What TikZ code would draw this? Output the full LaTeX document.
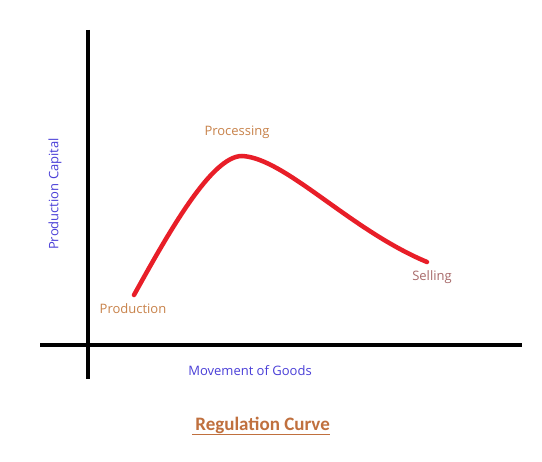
\documentclass[tikz,border=0pt]{standalone}
\usepackage{fontspec}
\setmainfont{Open Sans}
\newfontfamily\calfont{Carlito}
\definecolor{lblorange}{HTML}{C8824A}
\definecolor{lblmauve}{HTML}{A86A6A}
\definecolor{axblue}{HTML}{4A3FD8}
\definecolor{titlebrown}{HTML}{C0703E}
\definecolor{curvered}{HTML}{E81E28}
\begin{document}
\begin{tikzpicture}[x=1pt,y=-1pt,
  axisline/.style={line width=4pt,black},
  lbl/.style={font=\fontsize{13}{15}\selectfont,inner sep=0pt},
  curve/.style={line width=4.5pt,curvered,line cap=round}]
\useasboundingbox[fill=white] (0,0) rectangle (542,462);
\coordinate (ytop) at (88,30);
\coordinate (ybot) at (88,379);
\coordinate (xl) at (40,345);
\coordinate (xr) at (522,345);
\draw[axisline] (ytop) -- (ybot);
\draw[axisline] (xl) -- (xr);
\coordinate (c0) at (134,295);
\coordinate (c1) at (242,156);
\coordinate (c2) at (427,262);
\draw[curve] (c0) .. controls (170,230) and (212,156) .. (c1)
  .. controls (285,158) and (350,230) .. (c2);
\node[lbl,text=lblorange] (proc) at (237,132) {Processing};
\node[lbl,text=lblorange] (prod) at (133,309) {Production};
\node[lbl,text=lblmauve] (sell) at (432,277) {Selling};
\node[lbl,text=axblue,rotate=90] (ycap) at (55,194) {Production Capital};
\node[lbl,text=axblue] (xcap) at (250,371) {Movement of Goods};
\node[inner sep=0pt,text=titlebrown,font=\calfont\bfseries\fontsize{19}{21}\selectfont] (title) at (261,426) {\underline{\,Regulation Curve}};
\end{tikzpicture}
\end{document}
